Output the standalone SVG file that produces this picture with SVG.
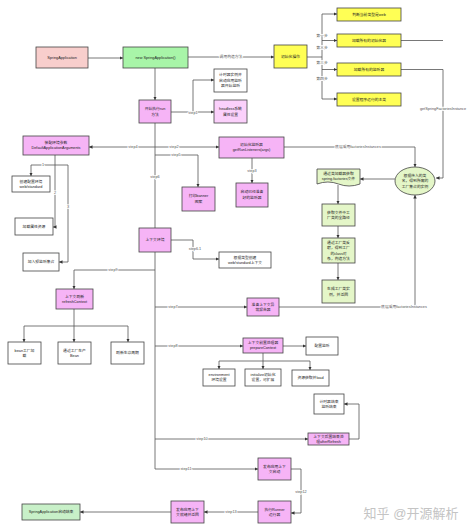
<svg xmlns="http://www.w3.org/2000/svg" width="474" height="532" viewBox="0 0 474 532">
<defs>
<marker id="a" viewBox="0 0 6 6" refX="6" refY="3" markerWidth="3.5" markerHeight="3.5" orient="auto" markerUnits="userSpaceOnUse"><path d="M0,0 L6,3 L0,6 z" fill="#333"/></marker>
<style>
.b{stroke:#444;stroke-width:0.8}
.pk{fill:#f6b4f6}
.lp{fill:#fbd0fb}
.w{fill:#fff}
.y{fill:#ffff55}
.g{fill:#e4f6c8}
.gr{fill:#a8f5a8}
.sa{fill:#f8cecc}
.ge{fill:#c8f0c8}
text{font-family:"Liberation Sans","Noto Sans CJK SC",sans-serif;font-size:3.8px;fill:#222;text-anchor:middle;dominant-baseline:central}
.l{paint-order:stroke;stroke:#fff;stroke-width:1.6px;fill:#555}
.c{fill:none;stroke:#555;stroke-width:0.8}
.ar{marker-end:url(#a)}
.wm{font-size:13px;fill:#c4c4c4}
</style>
</defs>
<rect width="474" height="532" fill="#fff"/>

<g id="connectors">
<path class="c ar" d="M88,58 H123"/>
<path class="c ar" d="M188,57 H274"/>
<path class="c" d="M307,57 H322 M322,14 V99"/>
<path class="c ar" d="M322,14 H337"/>
<path class="c ar" d="M322,40.5 H337"/>
<path class="c ar" d="M322,69.5 H337"/>
<path class="c ar" d="M322,99 H337"/>
<path class="c" d="M401,40.5 H443"/>
<path class="c ar" d="M401,69.5 H443 V178 H436"/>
<path class="c ar" d="M155,68 V100"/>
<path class="c ar" d="M171,112 H214"/>
<path class="c ar" d="M193,112 V80 H214"/>
<path class="c" d="M155,123 V469"/>
<path class="c ar" d="M155,147 H89"/>
<path class="c ar" d="M155,147 H219"/>
<path class="c ar" d="M155,155 H198 V187"/>
<path class="c ar" d="M252,158 V183"/>
<path class="c ar" d="M284,147 H415 V167"/>
<path class="c ar" d="M395,179 H360"/>
<path class="c ar" d="M338,185 V204"/>
<path class="c ar" d="M338,226 V238"/>
<path class="c ar" d="M338,263 V280"/>
<path class="c ar" d="M279,307 H415 V195"/>
<path class="c ar" d="M171,240 H193 V259 H219"/>
<path class="c ar" d="M155,270 H74 V289"/>
<path class="c" d="M74,309 V326 M24,326 H128"/>
<path class="c ar" d="M24,326 V342"/>
<path class="c ar" d="M74,326 V342"/>
<path class="c ar" d="M128,326 V342"/>
<path class="c" d="M55,155 V165 M31,165 H68"/>
<path class="c ar" d="M31,165 V176"/>
<path class="c ar" d="M55,165 V227 H53"/>
<path class="c ar" d="M68,165 V262 H59"/>
<path class="c ar" d="M155,307 H247"/>
<path class="c ar" d="M155,346 H243"/>
<path class="c ar" d="M283,346 H306"/>
<path class="c" d="M263,353 V361 M219,361 H310"/>
<path class="c ar" d="M219,361 V369"/>
<path class="c ar" d="M263,361 V369"/>
<path class="c ar" d="M310,361 V370"/>
<path class="c ar" d="M155,439 H308"/>
<path class="c ar" d="M349,439 H359 V404 H344"/>
<path class="c ar" d="M155,469 H258"/>
<path class="c ar" d="M291,469 H301 V513 H291"/>
<path class="c ar" d="M258,512 H204"/>
<path class="c ar" d="M171,512 H80"/>

<text class="l" x="231" y="57">调用构造方法</text>
<text class="l" x="322" y="36">第一步</text>
<text class="l" x="322" y="48">第二步</text>
<text class="l" x="322" y="63">第三步</text>
<text class="l" x="322" y="79">第四步</text>
<text class="l" x="443" y="109">getSpringFactoriesInstance</text>
<text class="l" x="193" y="113">step1</text>
<text class="l" x="133" y="147">step4</text>
<text class="l" x="174" y="147">step2</text>
<text class="l" x="176" y="155">step5</text>
<text class="l" x="252" y="171">step3</text>
<text class="l" x="358" y="147">底层采用factoriesInstances</text>
<text class="l" x="404" y="307">底层采用factoriesInstances</text>
<text class="l" x="155" y="177">step6</text>
<text class="l" x="195" y="249">step6.1</text>
<text class="l" x="113" y="270">step9</text>
<text class="l" x="43" y="165">1</text>
<text class="l" x="55" y="193">2</text>
<text class="l" x="68" y="207">3</text>
<text class="l" x="173" y="307">step7</text>
<text class="l" x="173" y="346">step8</text>
<text class="l" x="202" y="439">step10</text>
<text class="l" x="186" y="469">step11</text>
<text class="l" x="301" y="492">step12</text>
<text class="l" x="231" y="512">step13</text>
</g>

<g id="n1"><rect class="b sa" x="36" y="47" width="52" height="21"/><text x="62" y="57.5">SpringApplication</text></g>
<g id="n2"><rect class="b gr" x="123" y="47" width="65" height="21"/><text x="155.5" y="57.5">new SpringApplication()</text></g>
<g id="n3"><rect class="b y" x="274" y="45" width="33" height="23"/><text x="290.5" y="56.5">初始化操作</text></g>
<g id="n4"><rect class="b y" x="337" y="8" width="64" height="13"/><text x="369" y="14.5">判断当前类型是web</text></g>
<g id="n5"><rect class="b y" x="337" y="34" width="64" height="13"/><text x="369" y="40.5">加载所有的初始化器</text></g>
<g id="n6"><rect class="b y" x="337" y="63" width="64" height="13"/><text x="369" y="69.5">加载所有的监听器</text></g>
<g id="n7"><rect class="b y" x="337" y="93" width="64" height="13"/><text x="369" y="99.5">设置程序运行的主类</text></g>
<g id="n8"><rect class="b pk" x="139" y="100" width="32" height="23"/><text x="155" y="109">开始执行run</text><text x="155" y="114.5">方法</text></g>
<g id="n9"><rect class="b w" x="214" y="69" width="33" height="23"/><text x="230.5" y="75">计时器实例并</text><text x="230.5" y="80.5">启动应用监听</text><text x="230.5" y="86">器开始监听</text></g>
<g id="n10"><rect class="b lp" x="214" y="100" width="33" height="23"/><text x="230.5" y="109">headless系统</text><text x="230.5" y="114.5">属性设置</text></g>
<g id="n11"><rect class="b pk" x="23" y="136" width="66" height="19"/><text x="56" y="142.5">装配环境参数</text><text x="56" y="148">DefaultApplicationArguments</text></g>
<g id="n12"><rect class="b pk" x="219" y="137" width="65" height="21"/><text x="251.5" y="144.5">初始化监听器</text><text x="251.5" y="150">getRunListeners(args)</text></g>
<g id="n13"><rect class="b pk" x="182" y="187" width="33" height="24"/><text x="198.5" y="196">打印banner</text><text x="198.5" y="201.5">图案</text></g>
<g id="n14"><rect class="b pk" x="236" y="183" width="32" height="24"/><text x="252" y="192">启动已经准备</text><text x="252" y="197.5">好的监听器</text></g>
<g id="n15"><ellipse class="b g" cx="415" cy="181" rx="20" ry="14"/><text x="415" y="175.5">根据传入的类</text><text x="415" y="181">名，得到所需的</text><text x="415" y="186.5">工厂集合的实例</text></g>
<g id="n16"><path class="b g" d="M317,169 H360 V184 Q349,188 338.5,184 T317,184 Z"/><text x="338.5" y="174">通过类加载器获取</text><text x="338.5" y="179">spring.factories文件</text></g>
<g id="n17"><rect class="b g" x="322" y="204" width="33" height="22"/><text x="338.5" y="212.5">获取文件中工</text><text x="338.5" y="218">厂类的全路径</text></g>
<g id="n18"><rect class="b g" x="322" y="238" width="33" height="25"/><text x="338.5" y="243">通过工厂类反</text><text x="338.5" y="248.3">射，得到工厂</text><text x="338.5" y="253.6">的class对</text><text x="338.5" y="258.9">象，构造方法</text></g>
<g id="n19"><rect class="b g" x="322" y="280" width="33" height="23"/><text x="338.5" y="289">生成工厂类实</text><text x="338.5" y="294.5">例，并返回</text></g>
<g id="n20"><rect class="b w" x="12" y="176" width="38" height="16"/><text x="31" y="181.5">创建配置环境</text><text x="31" y="187">web/standard</text></g>
<g id="n21"><rect class="b w" x="15" y="218" width="38" height="17"/><text x="34" y="226.5">加载属性资源</text></g>
<g id="n22"><rect class="b w" x="23" y="253" width="36" height="18"/><text x="41" y="262">加入预监听集合</text></g>
<g id="n23"><rect class="b pk" x="139" y="228" width="32" height="24"/><text x="155" y="240">上下文环境</text></g>
<g id="n24"><rect class="b w" x="219" y="252" width="52" height="16"/><text x="245" y="257.5">根据类型创建</text><text x="245" y="263">web/standard上下文</text></g>
<g id="n25"><rect class="b pk" x="56" y="289" width="37" height="20"/><text x="74.5" y="296.5">上下文刷新</text><text x="74.5" y="302">refreshContext</text></g>
<g id="n26"><rect class="b w" x="8" y="342" width="33" height="22"/><text x="24.5" y="350.5">bean工厂加</text><text x="24.5" y="356">载</text></g>
<g id="n27"><rect class="b w" x="58" y="342" width="33" height="22"/><text x="74.5" y="350.5">通过工厂生产</text><text x="74.5" y="356">Bean</text></g>
<g id="n28"><rect class="b w" x="111" y="342" width="33" height="22"/><text x="127.5" y="353">刷新生命周期</text></g>
<g id="n29"><rect class="b pk" x="247" y="298" width="32" height="18"/><text x="263" y="304.5">准备上下文异</text><text x="263" y="310">常报告器</text></g>
<g id="n30"><rect class="b pk" x="243" y="338" width="40" height="15"/><text x="263" y="342.8">上下文前置处理器</text><text x="263" y="348.3">prepareContext</text></g>
<g id="n31"><rect class="b w" x="306" y="337" width="32" height="18"/><text x="322" y="346">配置监听</text></g>
<g id="n32"><rect class="b w" x="203" y="369" width="32" height="17"/><text x="219" y="374.8">environment</text><text x="219" y="380.3">环境设置</text></g>
<g id="n33"><rect class="b w" x="245" y="369" width="36" height="17"/><text x="263" y="374.8">initialize初始化</text><text x="263" y="380.3">设置，可扩展</text></g>
<g id="n34"><rect class="b w" x="292" y="370" width="37" height="16"/><text x="310.5" y="378">资源获取并load</text></g>
<g id="n35"><rect class="b w" x="314" y="394" width="30" height="20"/><text x="329" y="401.5">计时器结束</text><text x="329" y="407">监听结束</text></g>
<g id="n36"><rect class="b pk" x="308" y="433" width="41" height="12"/><text x="328.5" y="436.5">上下文后置结束处</text><text x="328.5" y="441.5">理afterRefresh</text></g>
<g id="n37"><rect class="b pk" x="258" y="458" width="33" height="22"/><text x="274.5" y="466.5">发布应用上下</text><text x="274.5" y="472">文启动</text></g>
<g id="n38"><rect class="b pk" x="258" y="501" width="33" height="22"/><text x="274.5" y="509.5">执行Runner</text><text x="274.5" y="515">运行器</text></g>
<g id="n39"><rect class="b pk" x="171" y="501" width="33" height="22"/><text x="187.5" y="509.5">发布应用上下</text><text x="187.5" y="515">文就绪并返回</text></g>
<g id="n40"><rect class="b ge" x="22" y="504" width="58" height="16"/><text x="51" y="512">SpringApplication启动结束</text></g>

<text class="wm" x="411" y="513">知乎 @开源解析</text>
</svg>
